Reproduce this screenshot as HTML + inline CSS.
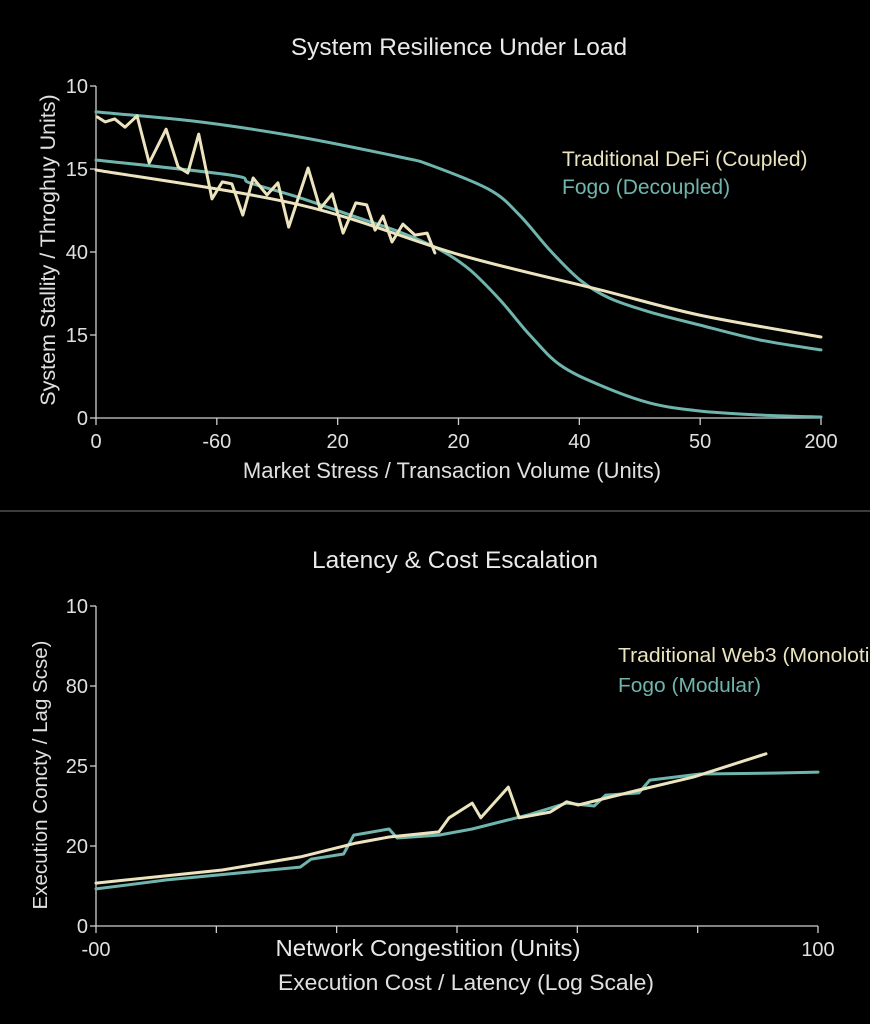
<!DOCTYPE html>
<html><head><meta charset="utf-8"><style>
html,body{margin:0;padding:0;background:#000;width:870px;height:1024px;overflow:hidden}
svg{display:block}
text{font-family:"Liberation Sans",sans-serif}
</style></head><body>
<svg id="chart" width="870" height="1024" viewBox="0 0 870 1024" xmlns="http://www.w3.org/2000/svg">
<rect width="870" height="1024" fill="#000"/>
<text x="459" y="55" fill="#eaeaea" font-size="24.5" text-anchor="middle">System Resilience Under Load</text>
<text transform="translate(55,250) rotate(-90)" fill="#e0e0e0" font-size="21.5" text-anchor="middle">System Stallity / Throghuy Units)</text>
<text x="452" y="478" fill="#e0e0e0" font-size="22" text-anchor="middle">Market Stress / Transaction Volume (Units)</text>
<text x="562" y="166" fill="#ece4be" font-size="21">Traditional DeFi (Coupled)</text>
<text x="562" y="194" fill="#6fb5ad" font-size="21">Fogo (Decoupled)</text>
<line x1="0" y1="511" x2="870" y2="511" stroke="#777" stroke-width="1"/>
<text x="455" y="568" fill="#eaeaea" font-size="24.5" text-anchor="middle">Latency &amp; Cost Escalation</text>
<text transform="translate(47,775) rotate(-90)" fill="#e0e0e0" font-size="20.5" text-anchor="middle">Execution Concty / Lag Scse)</text>
<text x="428" y="956" fill="#e8e8e8" font-size="23.5" text-anchor="middle" textLength="305" lengthAdjust="spacingAndGlyphs">Network Congestition (Units)</text>
<text x="466" y="990" fill="#e0e0e0" font-size="22.5" text-anchor="middle" textLength="376" lengthAdjust="spacingAndGlyphs">Execution Cost / Latency (Log Scale)</text>
<text x="618" y="662" fill="#ece4be" font-size="20.5" textLength="262" lengthAdjust="spacingAndGlyphs">Traditional Web3 (Monolotic</text>
<text x="618" y="692" fill="#6fb5ad" font-size="20.5" textLength="143" lengthAdjust="spacingAndGlyphs">Fogo (Modular)</text>
</svg>
<script>
// ---- Top chart data ----
const topYTicks = [0, 25, 50, 75, 100];
const topYTickLabels = ["0", "15", "40", "15", "10"];
const topXTicks = [0, 20, 40, 60, 80, 100, 120];
const topXTickLabels = ["0", "-60", "20", "20", "40", "50", "200"];
const fogoUpperX = [0,17.2,33.8,50.3,55.3,65.2,70.1,75.1,80.1,85.0,91.7,99.9,109.9,120];
const fogoUpperY = [92.2,89.2,84.6,78.6,76.2,68.7,61.1,50.6,41.6,36.1,31.9,28.0,23.5,20.5];
const fogoLowerX = [0,22.2,25.5,33.8,42.1,50.3,57.0,61.9,66.9,71.8,76.8,83.4,91.7,99.9,109.9,120];
const fogoLowerY = [77.7,73.2,70.8,66.3,61.1,56.0,50.6,44.6,35.5,25.0,16.0,9.9,4.5,2.1,0.9,0.3];
const tradSmoothX = [0,33.8,60.3,83.4,99.9,120];
const tradSmoothY = [74.7,64.2,49.1,38.6,31.0,24.4];
const tradJaggedX = [0.2,1.5,3.1,4.8,6.8,8.8,11.6,13.6,15.2,17.0,19.2,20.9,22.5,24.3,26.0,28.3,30.1,31.9,35.1,37.1,39.1,40.9,43.0,44.8,46.2,47.5,49.0,50.8,52.8,54.8,56.1];
const tradJaggedY = [90.7,89.2,90.1,87.6,91.0,76.8,87.0,75.6,73.8,85.5,66.0,71.1,70.5,61.1,72.3,67.2,70.8,57.5,75.3,63.0,67.5,55.7,64.8,64.2,56.6,60.8,53.0,58.4,55.1,55.7,49.7];

// ---- Bottom chart data ----
const botYTicks = [0, 25, 50, 75, 100];
const botYTickLabels = ["0", "20", "25", "80", "10"];
const botXTicks = [0, 16.67, 33.33, 50, 66.67, 83.33, 100];
const botXTickLabels = ["-00", "", "", "", "", "", "100"];
const fogoModX = [0,9.8,28.3,29.8,34.3,35.7,40.6,41.7,47.5,52.1,59.8,65.2,69.0,70.6,75.2,76.7,83.7,94.5,100];
const fogoModY = [11.6,14.4,18.4,20.9,22.5,28.4,30.3,27.5,28.4,30.3,34.7,38.4,37.5,40.9,41.6,45.6,47.5,47.8,48.1];
const web3X = [0,17.5,28.3,36.0,40.6,47.5,48.9,52.1,53.3,57.1,58.6,62.9,65.2,66.8,75.2,82.8,92.8];
const web3Y = [13.4,17.5,21.6,25.9,27.8,29.4,33.8,38.4,33.8,43.4,33.8,35.6,38.8,37.8,42.5,46.6,53.8];

const NS = "http://www.w3.org/2000/svg";
const svg = document.getElementById("chart");
const TEAL = "#6fb5ad", CREAM = "#ece4be";

function mk(tag, attrs) {
  const e = document.createElementNS(NS, tag);
  for (const k in attrs) e.setAttribute(k, attrs[k]);
  svg.appendChild(e);
  return e;
}
function scale(d0, d1, r0, r1) { return v => r0 + (v - d0) / (d1 - d0) * (r1 - r0); }

function axes(prefix, sx, sy, x0, x1, y0, y1, xt, xl, yt, yl, fs) {
  const ya = mk("line", {x1: x0, y1: y0, x2: x0, y2: y1, stroke: "#cfcfcf", "stroke-width": 1.3});
  
  
  const xa = mk("line", {x1: x0, y1: y0, x2: x1, y2: y0, stroke: "#cfcfcf", "stroke-width": 1.3});
  
  
  yt.forEach((v, i) => {
    const y = sy(v);
    const t = mk("line", {x1: x0 - 6, y1: y, x2: x0, y2: y, stroke: "#cfcfcf", "stroke-width": 1.3});
    
    
    const l = mk("text", {x: x0 - 8, y: y + 7, fill: "#e0e0e0", "font-size": fs, "text-anchor": "end"});
    l.textContent = yl[i];
    
    
  });
  xt.forEach((v, i) => {
    const x = sx(v);
    const t = mk("line", {x1: x, y1: y0, x2: x, y2: y0 + 7, stroke: "#cfcfcf", "stroke-width": 1.3});
    
    
    if (xl[i]) {
      const l = mk("text", {x: x, y: y0 + 30, fill: "#e0e0e0", "font-size": fs, "text-anchor": "middle"});
      l.textContent = xl[i];
      
      
    }
  });
}
function series(name, xs, ys, sx, sy, color, smooth) {
  const pts = xs.map((v, i) => [sx(v), sy(ys[i])]);
  let d = "M" + pts[0][0].toFixed(1) + " " + pts[0][1].toFixed(1);
  for (let i = 1; i < pts.length; i++) {
    if (smooth) {
      const p0 = pts[Math.max(0, i - 2)], p1 = pts[i - 1], p2 = pts[i], p3 = pts[Math.min(pts.length - 1, i + 1)];
      const c1x = p1[0] + (p2[0] - p0[0]) / 6, c1y = p1[1] + (p2[1] - p0[1]) / 6;
      const c2x = p2[0] - (p3[0] - p1[0]) / 6, c2y = p2[1] - (p3[1] - p1[1]) / 6;
      d += " C" + c1x.toFixed(1) + " " + c1y.toFixed(1) + " " + c2x.toFixed(1) + " " + c2y.toFixed(1) + " " + p2[0].toFixed(1) + " " + p2[1].toFixed(1);
    } else {
      d += " L" + pts[i][0].toFixed(1) + " " + pts[i][1].toFixed(1);
    }
  }
  const p = mk("path", {d: d, fill: "none", stroke: color, "stroke-width": 3, "stroke-linejoin": "round", "stroke-linecap": "round"});
  
  
}

// top
const tsx = scale(0, 120, 96, 821), tsy = scale(0, 100, 418, 86);
axes("top", tsx, tsy, 96, 821, 418, 86, topXTicks, topXTickLabels, topYTicks, topYTickLabels, 20);
series("fogo-upper-line", fogoUpperX, fogoUpperY, tsx, tsy, TEAL, true);
series("fogo-lower-line", fogoLowerX, fogoLowerY, tsx, tsy, TEAL, true);
series("traditional-defi-trend-line", tradSmoothX, tradSmoothY, tsx, tsy, CREAM, true);
series("traditional-defi-jagged-line", tradJaggedX, tradJaggedY, tsx, tsy, CREAM, false);

// bottom
const bsx = scale(0, 100, 96, 818), bsy = scale(0, 100, 926, 606);
axes("bottom", bsx, bsy, 96, 818, 926, 606, botXTicks, botXTickLabels, botYTicks, botYTickLabels, 20);
series("fogo-modular-line", fogoModX, fogoModY, bsx, bsy, TEAL, false);
series("traditional-web3-line", web3X, web3Y, bsx, bsy, CREAM, false);
</script>
</body></html>
